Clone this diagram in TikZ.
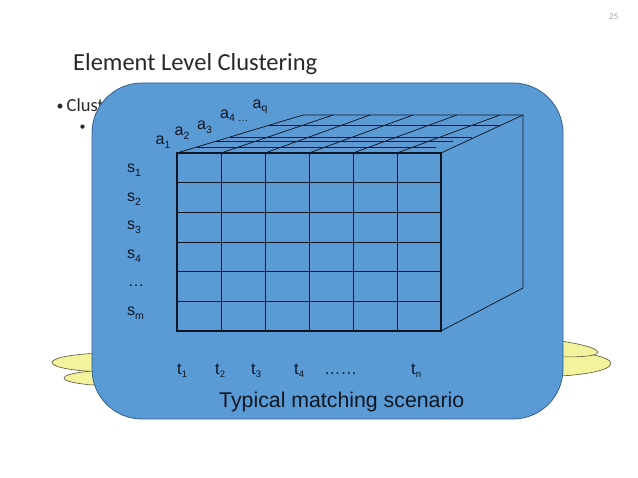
\documentclass[tikz,border=0pt]{standalone}
\usepackage{fontspec}
\setmainfont{Carlito}
\newfontfamily\arialfam{Liberation Sans}
\definecolor{boxblue}{RGB}{91,155,213}
\definecolor{boxedge}{RGB}{55,95,135}
\definecolor{cloudy}{RGB}{243,243,158}
\definecolor{cloudedge}{RGB}{85,85,55}
\definecolor{ink}{RGB}{15,22,35}
\definecolor{titleink}{RGB}{40,40,40}
\definecolor{pgnum}{RGB}{165,165,165}
\newcommand\lowsub[1]{\raisebox{-3.4pt}{\fontsize{10.5}{10.5}\selectfont #1}}
\newcommand\tsub[1]{\raisebox{-2.4pt}{\fontsize{9.5}{9.5}\selectfont #1}}
\begin{document}
\begin{tikzpicture}[x=1pt,y=-1pt,
  lobe/.style={fill=cloudy,draw=cloudedge,line width=0.6pt},
  lbl/.style={font=\arialfam\fontsize{16}{17}\selectfont,text=ink,inner sep=0pt,anchor=base west},
  tlbl/.style={font=\arialfam\fontsize{16.5}{17}\selectfont,text=ink,inner sep=0pt,anchor=base west},
  gridline/.style={draw=ink,line width=0.9pt},
  backline/.style={draw=ink,line width=0.75pt},
  slidetext/.style={inner sep=0pt,anchor=base west,text=titleink}]
\useasboundingbox (0,0) rectangle (638,478);
% cloud lobes behind the box
\draw[lobe] (112,362.5) ellipse [x radius=60pt, y radius=9.5pt];
\draw[lobe] (120,378) ellipse [x radius=56pt, y radius=8pt];
\draw[lobe] (541,363.5) ellipse [x radius=70pt, y radius=13pt];
\draw[lobe,rotate around={-5:(538,347)}] (538,347) ellipse [x radius=60pt, y radius=8.5pt];
% slide texts
\node[slidetext,font=\fontsize{9}{10}\selectfont,text=pgnum] (pg) at (609,20) {25};
\node[slidetext,font=\fontsize{24.5}{26}\selectfont] (title) at (73,71) {Element Level Clustering};
\node[slidetext,font=\fontsize{14}{16}\selectfont] (b1) at (56.5,110.5) {•};
\node[slidetext,font=\fontsize{18.5}{20}\selectfont] (b1t) at (66.5,112) {Clust};
\node[slidetext,font=\fontsize{12}{14}\selectfont] (b2) at (79.5,131) {•};
% the blue rounded box
\draw[fill=boxblue,draw=boxedge,line width=0.8pt,rounded corners=50pt] (92,83) rectangle (563,419);
% cube: top face
\foreach \a/\b in {177/303,221/333,265/370,309/413,353/457,397/500,441/523}
  \draw[backline] (\a,153) -- (\b,115);
\draw[backline] (303,115) -- (523,115) -- (523,288) -- (441,331);
\draw[backline] (267.5,125.7) -- (501,125.7);
\draw[backline] (230,137) -- (472,137);
\draw[backline] (214.5,141.7) -- (453,141.7);
\draw[backline] (197,147) -- (436,147);
% cube: front grid
\foreach \x in {221,265,309,353,397}
  \draw[gridline] (\x,153) -- (\x,331);
\foreach \y in {182.7,212.3,242,271.7,301.3}
  \draw[gridline] (177,\y) -- (441,\y);
\draw[draw=ink,line width=1.7pt] (177,153) rectangle (441,331);
% row labels
\node[lbl] (s1) at (127,172.7) {s\lowsub{1}};
\node[lbl] (s2) at (127,201.7) {s\lowsub{2}};
\node[lbl] (s3) at (127,230) {s\lowsub{3}};
\node[lbl] (s4) at (127,259) {s\lowsub{4}};
\node[lbl] (sd) at (128,287) {…};
\node[lbl] (sm) at (127,315.7) {s\lowsub{m}};
% attribute labels
\node[lbl] (a1) at (155.5,145) {a\lowsub{1}};
\node[lbl] (a2) at (174.5,136) {a\lowsub{2}};
\node[lbl] (a3) at (197,130) {a\lowsub{3}};
\node[lbl] (a4) at (220,118.3) {a\lowsub{4 …}};
\node[lbl] (aq) at (252.5,108.3) {a\lowsub{q}};
% column labels
\node[tlbl] (t1) at (177,375) {t\tsub{1}};
\node[tlbl] (t2) at (215,375) {t\tsub{2}};
\node[tlbl] (t3) at (251,375) {t\tsub{3}};
\node[tlbl] (t4) at (294,375) {t\tsub{4}};
\node[tlbl] (td) at (324,375) {……};
\node[tlbl] (tn) at (411,375) {t\tsub{n}};
\node[inner sep=0pt,anchor=base west,text=ink,font=\arialfam\fontsize{21.3}{23}\selectfont] (cap) at (219,408) {Typical matching scenario};
\end{tikzpicture}
\end{document}
